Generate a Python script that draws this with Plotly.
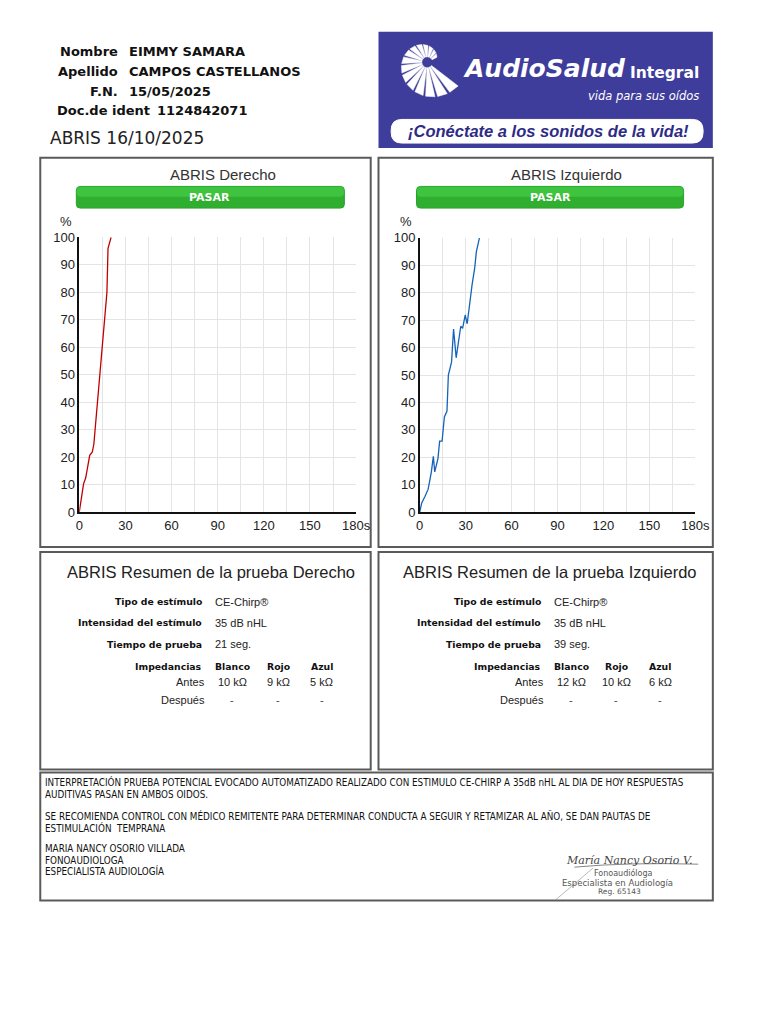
import math
import plotly.graph_objects as go

# ---------------- data ----------------
paciente_campos = ["Nombre", "Apellido", "F.N.", "Doc.de ident"]
paciente_valores = ["EIMMY SAMARA", "CAMPOS CASTELLANOS", "15/05/2025", "1124842071"]
fecha_prueba = "ABRIS 16/10/2025"

derecho_tiempo = [0, 2.8, 4.2, 5.3, 6.8, 8.5, 9.5, 18.0, 18.4, 18.7, 20.7]
derecho_pct = [0, 10.3, 12.5, 15.5, 20.7, 21.9, 24.8, 80, 90, 96, 100]

izquierdo_tiempo = [0, 1.3, 3.4, 5.5, 6.6, 7.6, 8.9, 9.8, 11.9, 13.0, 14.6, 16.1, 17.8,
                    18.7, 20.8, 22.1, 23.8, 25.3, 26.8, 28.0, 29.7, 31.0, 32.3, 34.2,
                    35.9, 37.0, 39.0]
izquierdo_pct = [0, 3.4, 5.7, 8.4, 11.7, 14.7, 20.4, 14.7, 19.5, 25.9, 25.9, 34.7, 36.9,
                 50, 54.8, 66.8, 56.3, 62, 67.8, 67, 71.9, 68.7, 75.2, 83,
                 89, 95, 100]

x_ticks = [0, 30, 60, 90, 120, 150, 180]
x_ticktext = ["0", "30", "60", "90", "120", "150", "180s"]
y_ticks = [0, 10, 20, 30, 40, 50, 60, 70, 80, 90, 100]

resumen_campos = ["Tipo de estímulo", "Intensidad del estímulo", "Tiempo de prueba"]
der_resumen = ["CE-Chirp®", "35 dB nHL", "21 seg."]
izq_resumen = ["CE-Chirp®", "35 dB nHL", "39 seg."]
electrodos = ["Blanco", "Rojo", "Azul"]
der_antes = ["10 kΩ", "9 kΩ", "5 kΩ"]
izq_antes = ["12 kΩ", "10 kΩ", "6 kΩ"]
despues = ["-", "-", "-"]

interpretacion = [
    "INTERPRETACIÓN PRUEBA POTENCIAL EVOCADO AUTOMATIZADO REALIZADO CON ESTIMULO CE-CHIRP A 35dB nHL AL DIA DE HOY RESPUESTAS",
    "AUDITIVAS PASAN EN AMBOS OIDOS.",
    "SE RECOMIENDA CONTROL CON MÉDICO REMITENTE PARA DETERMINAR CONDUCTA A SEGUIR Y RETAMIZAR AL AÑO, SE DAN PAUTAS DE",
    "ESTIMULACIÓN  TEMPRANA",
    "MARIA NANCY OSORIO VILLADA",
    "FONOAUDIOLOGA",
    "ESPECIALISTA AUDIOLOGÍA",
]

# ---------------- helpers ----------------
# the page body keeps its default 8px margin, so the figure is sized to fit the
# 768x1024 window exactly and page coordinates are shifted by that margin
OFF = 8
W, H = 768 - 2 * OFF, 1024 - 2 * OFF


def px(x):
    return (x - OFF) / W


def py(y):
    return 1 - (y - OFF) / H


annotations = []
shapes = []


def text(t, x, y, size, color="#222", family="Liberation Sans", weight="normal",
         style="normal", xanchor="left"):
    annotations.append(dict(
        text=t, x=px(x), y=py(y), xref="paper", yref="paper", showarrow=False,
        xanchor=xanchor, yanchor="middle", borderpad=0,
        font=dict(size=size, color=color, family=family, weight=weight, style=style)))


def rect(x0, y0, x1, y1, line="#5a5a5a", fill=None, width=2):
    shapes.append(dict(type="rect", xref="paper", yref="paper",
                       x0=px(x0), x1=px(x1), y0=py(y0), y1=py(y1),
                       line=dict(color=line, width=width),
                       fillcolor=fill if fill else "rgba(0,0,0,0)", layer="below"))


def rrect(x0, y0, x1, y1, r, fill, line=None, layer="below"):
    pts = (f"M{px(x0 + r)},{py(y0)} L{px(x1 - r)},{py(y0)} Q{px(x1)},{py(y0)} {px(x1)},{py(y0 + r)} "
           f"L{px(x1)},{py(y1 - r)} Q{px(x1)},{py(y1)} {px(x1 - r)},{py(y1)} "
           f"L{px(x0 + r)},{py(y1)} Q{px(x0)},{py(y1)} {px(x0)},{py(y1 - r)} "
           f"L{px(x0)},{py(y0 + r)} Q{px(x0)},{py(y0)} {px(x0 + r)},{py(y0)} Z")
    shapes.append(dict(type="path", path=pts, xref="paper", yref="paper",
                       fillcolor=fill, line=dict(color=line or fill, width=1), layer=layer))


# ---------------- figure ----------------
fig = go.Figure()
fig.add_trace(go.Scatter(x=derecho_tiempo, y=derecho_pct, mode="lines",
                         line=dict(color="#c00000", width=1.3), xaxis="x", yaxis="y",
                         showlegend=False, hoverinfo="skip"))
fig.add_trace(go.Scatter(x=izquierdo_tiempo, y=izquierdo_pct, mode="lines",
                         line=dict(color="#1463b8", width=1.3), xaxis="x2", yaxis="y2",
                         showlegend=False, hoverinfo="skip"))

axis_common_x = dict(range=[0, 180], tickvals=x_ticks, ticktext=x_ticktext,
                     showgrid=True, gridcolor="#e4e4e4", gridwidth=1,
                     minor=dict(dtick=15, tick0=0, showgrid=True, gridcolor="#e4e4e4", gridwidth=1),
                     showline=True, linecolor="#111", linewidth=1.5, zeroline=False,
                     ticks="", tickfont=dict(size=13, color="#222", family="Liberation Sans"),
                     fixedrange=True)
axis_common_y = dict(range=[0, 100], tickvals=y_ticks, showgrid=True, gridcolor="#e4e4e4",
                     gridwidth=1, showline=True, linecolor="#111", linewidth=1.5,
                     zeroline=False, ticks="",
                     tickfont=dict(size=13, color="#222", family="Liberation Sans"),
                     fixedrange=True)

fig.update_layout(
    xaxis=dict(axis_common_x, domain=[px(77), px(361)], anchor="y"),
    yaxis=dict(axis_common_y, domain=[py(512.7), py(233.7)], anchor="x"),
    xaxis2=dict(axis_common_x, domain=[px(426.3), px(709)], anchor="y2"),
    yaxis2=dict(axis_common_y, domain=[py(512.7), py(234.3)], anchor="x2"),
)

# ---------------- header ----------------
label_y = [45.5, 65.5, 85.5, 104.5]
for i, (lab, val) in enumerate(zip(paciente_campos, paciente_valores)):
    if i < 3:
        text(lab, 118, label_y[i], 13, "#111", "DejaVu Sans", "bold", xanchor="right")
        text(val, 127, label_y[i], 13, "#111", "DejaVu Sans", "bold")
    else:
        text(lab, 53, label_y[i], 13, "#111", "DejaVu Sans", "bold")
        text(val, 156, label_y[i], 13, "#111", "DejaVu Sans", "bold")
text(fecha_prueba, 46, 133, 17, "#222", "DejaVu Sans")

# ---------------- logo ----------------
rect(384, 25, 727, 143, line="#3f3d9b", fill="#3f3d9b", width=0)
cx, cy = 434, 56
n_w = 15
a_start, a_end = 25, 325
span = (a_end - a_start) / n_w
for k in range(n_w):
    a1 = a_start + k * span + 2.2
    a2 = a_start + (k + 1) * span - 2.2
    r_in = 5.5

    def rr(a):
        return 11 + (a - a_start) / (a_end - a_start) * 29

    pts = []
    for a, r in [(a1, r_in), (a1, rr(a1)), (a2, rr(a2)), (a2, r_in)]:
        ang = math.radians(a)
        pts.append((cx + r * math.cos(ang), cy - r * math.sin(ang)))
    path = "M" + " L".join(f"{px(x)},{py(y)}" for x, y in pts) + " Z"
    shapes.append(dict(type="path", path=path, xref="paper", yref="paper",
                       fillcolor="white", line=dict(color="white", width=0.5), layer="below"))

text("AudioSalud", 470, 62, 25, "white", "DejaVu Sans", "bold", "italic")
text("Integral", 641, 67, 15.5, "white", "DejaVu Sans", "bold")
text("vida para sus oídos", 714, 90, 11.5, "white", "DejaVu Sans", "normal", "italic",
     xanchor="right")
rrect(397, 114, 717, 138, 11, "white")
text("¡Conéctate a los sonidos de la vida!", 558, 126, 16.5, "#2d2b86", "Liberation Sans",
     "bold", "italic", xanchor="center")

# ---------------- chart boxes ----------------
rect(37, 153, 376, 548)
rect(384, 153, 727, 548)
rect(37, 553, 376, 774)
rect(384, 553, 727, 774)
rect(37, 777, 727, 907)

text("ABRIS Derecho", 224, 170, 15, "#333", "Liberation Sans", xanchor="center")
text("ABRIS Izquierdo", 577, 170, 15, "#333", "Liberation Sans", xanchor="center")
rrect(74, 182, 349, 204, 4, "#2fae2f", "#2aa52a")
rrect(423, 182, 697, 204, 4, "#2fae2f", "#2aa52a")
rrect(75, 183, 348, 192, 3, "#3fc43f")
rrect(424, 183, 696, 192, 3, "#3fc43f")
text("PASAR", 211, 193, 11, "white", "DejaVu Sans", "bold", xanchor="center")
text("PASAR", 560, 193, 11, "white", "DejaVu Sans", "bold", xanchor="center")
text("%", 63, 218, 13, "#222", "Liberation Sans", xanchor="center")
text("%", 412, 218, 13, "#222", "Liberation Sans", xanchor="center")

# ---------------- summaries ----------------
def resumen(title, tcx, lab_r, val_l, col_c, antes_r, vals, antes):
    text(title, tcx, 573, 16.5, "#222", "Liberation Sans", xanchor="center")
    rows = [603.5, 625, 647]
    for lab, v, yy in zip(resumen_campos, vals, rows):
        text(lab, lab_r, yy, 9.3, "#111", "DejaVu Sans", "bold", xanchor="right")
        text(v, val_l, yy, 11, "#222", "Liberation Sans")
    text("Impedancias", lab_r, 669, 9.3, "#111", "DejaVu Sans", "bold", xanchor="right")
    for c, e, a, d in zip(col_c, electrodos, antes, despues):
        text(e, c, 669, 9.3, "#111", "DejaVu Sans", "bold", xanchor="center")
        text(a, c, 685.5, 11, "#222", "Liberation Sans", xanchor="center")
        text(d, c, 703, 11, "#444", "Liberation Sans", xanchor="center")
    text("Antes", antes_r, 685.5, 11, "#222", "Liberation Sans", xanchor="right")
    text("Después", antes_r, 703, 11, "#222", "Liberation Sans", xanchor="right")


resumen("ABRIS Resumen de la prueba Derecho", 212, 204, 215, [234, 281, 326], 207,
        der_resumen, der_antes)
resumen("ABRIS Resumen de la prueba Izquierdo", 560, 552, 563, [582, 628, 673], 555,
        izq_resumen, izq_antes)

# ---------------- interpretation ----------------
line_y = [787, 799, 821, 833, 854, 866, 877]
for t, yy in zip(interpretacion, line_y):
    text(t, 41, yy, 9.8, "#111", "DejaVu Sans Condensed")

# signature
text("María Nancy Osorio V.", 642, 866, 11, "#444", "DejaVu Serif", "normal", "italic",
     xanchor="center")
text("Fonoaudióloga", 635, 879, 8, "#555", "DejaVu Sans", xanchor="center")
text("Especialista en Audiología", 629, 889, 8.5, "#555", "DejaVu Sans", xanchor="center")
text("Reg. 65143", 631, 898, 7.5, "#555", "DejaVu Sans", xanchor="center")
shapes.append(dict(type="path", xref="paper", yref="paper",
                   path=f"M{px(585)},{py(873)} Q{px(640)},{py(868)} {px(712)},{py(870)}",
                   line=dict(color="#666", width=0.8)))
shapes.append(dict(type="path", xref="paper", yref="paper",
                   path=f"M{px(566)},{py(906)} L{px(604)},{py(874)}",
                   line=dict(color="#888", width=0.6)))

fig.update_layout(
    width=W, height=H, margin=dict(l=0, r=0, t=0, b=0),
    paper_bgcolor="white", plot_bgcolor="white",
    annotations=annotations, shapes=shapes, showlegend=False,
)

fig.write_html("out.html", config={"displayModeBar": False})
